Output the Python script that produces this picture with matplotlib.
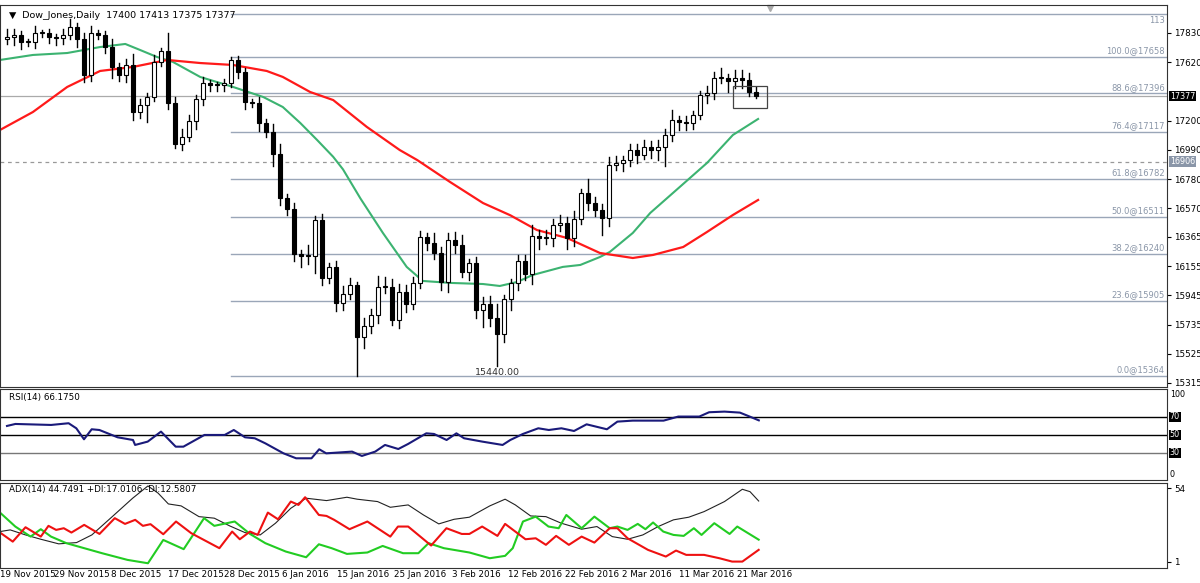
import matplotlib
matplotlib.use("Agg")
import matplotlib.pyplot as plt
from matplotlib.patches import Rectangle

closes = [17801,17816,17765,17765,17830,17830,17801,17794,17816,17873,
          17787,17528,17830,17816,17729,17586,17528,17600,17262,17313,
          17370,17622,17701,17327,17032,17083,17198,17356,17471,17456,
          17456,17471,17636,17550,17334,17327,17183,17119,16961,16644,
          16565,16242,16228,16228,16486,16070,16149,15890,15955,16019,
          15646,15725,15804,16005,16005,15768,15969,15883,16034,16364,
          16321,16249,16041,16343,16307,16113,16177,15840,15883,15782,
          15667,15919,16034,16192,16098,16371,16357,16357,16450,16465,
          16357,16494,16680,16608,16558,16501,16882,16896,16917,16989,
          16953,17011,16989,17011,17097,17205,17191,17183,17241,17385,
          17399,17507,17507,17485,17507,17492,17406,17377]
first_open = 17790
wick_up = [60,40,30,25,50,20,30,25,40,60,
           30,40,50,20,30,60,30,40,80,40,
           30,50,20,130,40,60,40,30,40,20,
           20,25,22,30,30,20,40,30,60,70,
           30,40,30,80,30,40,30,40,60,50,
           20,60,40,80,70,60,60,50,40,40,
           30,70,40,50,60,70,30,40,50,60,
           100,30,30,40,40,80,40,60,40,60,
           40,60,30,100,40,40,60,50,30,40,
           40,50,40,50,40,70,30,40,30,30,
           50,40,70,30,60,60,50,36]
wick_dn = [40,60,50,30,40,30,40,50,40,30,
           60,50,40,30,40,80,40,50,60,40,
           120,30,30,40,30,40,30,60,40,40,
           40,40,30,40,50,30,60,40,90,50,
           40,50,80,60,120,50,40,60,50,40,
           282,80,50,60,40,40,60,60,40,40,
           50,40,60,70,60,40,60,60,120,60,
           227,60,80,50,40,70,80,40,60,40,
           80,60,40,50,40,120,60,40,60,40,
           60,30,60,70,140,40,60,50,40,30,
           60,40,40,80,50,60,30,12]

ma_fast_x = [-1,3.7,8.6,13.3,16.9,19,21.4,23.7,27.6,32.3,36.6,39.4,41.9,44.3,46.6,48,50.5,
             53.7,57.1,59.4,63.3,68,70.4,72.9,75.1,79.4,81.9,84.7,86.1,89.4,91.9,96.1,100,103.7,107.3]
ma_fast = [17636,17672,17686,17729,17751,17708,17658,17622,17514,17442,17370,17298,17183,17061,16940,16850,16640,
           16393,16149,16048,16034,16026,16012,16041,16091,16149,16163,16220,16256,16393,16537,16723,16896,17097,17212]
ma_slow_x = [-1,3.7,8.6,13.3,18,22.9,27.6,32.3,37.1,39.4,43.3,46.6,51.4,56.1,58.6,63.3,68,71.9,75.7,
             80,84.7,89.4,92.3,96.6,100,103.7,107.3]
ma_slow = [17133,17262,17442,17557,17586,17636,17614,17600,17557,17514,17406,17348,17155,16989,16917,16759,16608,16520,16414,
           16357,16249,16213,16235,16292,16400,16522,16630]

fib_pct = ["113", "100.0", "88.6", "76.4", "61.8", "50.0", "38.2", "23.6", "0.0"]
fib_price = [17965, 17658, 17396, 17117, 16782, 16511, 16240, 15905, 15364]

rsi_x = [0,1.2,6.3,8.8,9.9,11,12.1,13.2,15.8,18,18.3,20.1,22,24.1,25.2,28.2,31.1,32.4,34,35.4,36.9,39.5,41.3,43.5,44.6,45.6,
         49.3,50.7,52.6,54,55.9,57.3,59.9,61,62.8,64.2,65.3,67.9,70.8,71.9,73.7,75.9,77.4,79.2,81,82.8,85.7,87.2,89.4,93.8,95.9,
         98.9,100.3,102.5,104.7,106.1,107.4]
rsi = [60,62.2,61.1,63,57.4,45.2,56.3,55.5,47.4,44.4,38.9,42.6,53.7,37,37,50,50,55.5,47.4,46.3,40.7,29.6,24.1,24.1,34.1,29.6,
       31.5,26.7,31.5,38.9,34.4,40,51.8,51.1,44.4,51.8,46.3,42.6,38.9,44.4,51.1,57.4,55.5,57.4,54.4,61.8,56.3,64.8,65.9,65.9,70.4,
       70.4,75.2,75.9,74.8,70.4,66.2]

adx_zx = [0,20,50,80,115,150,180,220,260,290,310,330,355,390,420,450,480,510,540,570,600,640,680,700,740,765,800,830,860,890,
          920,960,990,1010,1040,1070,1100,1140,1170,1200,1230,1260,1290,1320,1350,1380,1420,1455,1470,1487]
adx = [22.8,24,20.4,17.3,14,14.9,20.4,33.5,46.7,55.5,50.3,42.6,41.2,33.5,32.4,26.9,22.1,20.4,28.8,39.5,46.7,45,47.4,46,44.3,40.2,
       41.9,34.7,28.3,31.6,33.1,41.2,46,41.9,34,33.5,28.8,24.5,26.4,19.2,17.3,20.4,26.4,31.2,33.1,37.1,44.3,53.1,51.4,44.7]
mdi_zx = [0,25,50,80,95,110,125,140,165,195,225,245,265,280,295,320,345,375,430,455,470,490,505,525,545,570,585,598,625,640,
          655,685,720,765,780,800,845,875,905,920,945,975,990,1030,1050,1070,1090,1115,1140,1165,1195,1210,1230,1270,1305,1325,
          1345,1380,1410,1435,1455,1487]
mdi = [22.1,15.6,25.9,19.2,26.9,24,25.2,22.1,27.6,21.1,32.4,28.3,31.2,26.9,28.1,20.9,30,21.6,10.9,22.8,17.3,22.8,20.4,36.4,31.6,
       44.3,41.9,47.4,34.7,34,31.2,24.5,30,19.2,26.4,26.4,12.8,25.2,21.1,21.1,26.4,19.7,28.3,17.3,18,13.3,19.7,13.3,19.2,14.9,
       25.2,25.2,18,9.7,4.9,9.2,6.1,6.1,3.7,1.3,1.3,9.7]
pdi_zx = [0,30,60,80,100,130,165,200,250,290,320,360,400,420,460,490,520,560,600,625,650,680,720,750,790,820,840,870,920,960,
          990,1005,1025,1050,1075,1095,1110,1140,1165,1195,1210,1230,1250,1265,1280,1300,1320,1340,1360,1375,1400,1430,1445,1487]
pdi = [36.4,26.4,19.2,24.5,19.2,14.5,10.9,7.3,2.5,0.1,16.8,10.2,32.4,26.9,30,21.1,14.5,8.5,4.4,13.7,10.9,6.8,7.8,12.5,7.3,7.3,
       14.5,10.9,7.8,3.7,5.4,10.9,30,33.5,26.4,25.2,34.7,25.2,33.5,25.2,26.4,24,28.3,24.5,29.3,22.8,20.4,19.7,25.2,20.4,28.8,21.1,
       26.4,17.0]

date_labels = ["19 Nov 2015","29 Nov 2015","8 Dec 2015","17 Dec 2015","28 Dec 2015","6 Jan 2016","15 Jan 2016",
               "25 Jan 2016","3 Feb 2016","12 Feb 2016","22 Feb 2016","2 Mar 2016","11 Mar 2016","21 Mar 2016"]
date_pos = [-1,6.7,14.9,23,31,39.3,47.1,55.3,63.6,71.6,79.7,87.9,96,104.3]
price_ticks = [17830,17620,17200,16990,16780,16570,16365,16155,15945,15735,15525,15315]

plt.rcParams['font.family'] = ['DejaVu Sans']
FS = 6.3

W, H = 1200, 583
fig = plt.figure(figsize=(12, 5.83), dpi=100)
right = 1167 / W
def fy(p): return 1 - p / H
ax = fig.add_axes([0, fy(387), right, fy(5) - fy(387)])
ar = fig.add_axes([0, fy(480), right, fy(389) - fy(480)])
aa = fig.add_axes([0, fy(568), right, fy(483) - fy(568)])
XL = (-1, 1167 / 7 - 1)
def zx2bar(z): return (z / 1.96 - 7) / 7

for a in (ax, ar, aa):
    a.set_xlim(*XL)
    a.set_xticks([])
    a.yaxis.tick_right()
    a.tick_params(axis='y', labelsize=FS, length=3, pad=2)
    for s in a.spines.values():
        s.set_color('#333333'); s.set_linewidth(0.8)

ax.set_ylim(15286, 18031)
ax.set_yticks(price_ticks)
ax.set_yticklabels([str(t) for t in price_ticks])

for lab, p in zip(fib_pct, fib_price):
    ax.plot([32, XL[1]], [p, p], color='#9aa6b8', lw=1)
    if lab == "113":
        ax.text(XL[1] - 0.3, p - 10, lab, ha='right', va='top', fontsize=FS - 0.3, color='#8a96a8')
    else:
        ax.text(XL[1] - 0.3, p + 12, f"{lab}@{p}", ha='right', va='bottom', fontsize=FS - 0.3, color='#8a96a8')
ax.axhline(16906, color='#999999', lw=0.9, ls=(0, (3, 3)))
ax.axhline(closes[-1], color='#aaaaaa', lw=0.9)
ax.text(XL[1] + 0.4, 16906, "16906", fontsize=FS - 0.5, color='white', va='center',
        bbox=dict(boxstyle='square,pad=0.12', fc='#8a96a8', ec='none'), clip_on=False)
ax.text(XL[1] + 0.4, closes[-1], str(closes[-1]), fontsize=FS - 0.5, color='white', va='center',
        bbox=dict(boxstyle='square,pad=0.12', fc='black', ec='none'), clip_on=False)

opens = [first_open] + closes[:-1]
for i, (o, c) in enumerate(zip(opens, closes)):
    hi = max(o, c) + wick_up[i]; lo = min(o, c) - wick_dn[i]
    ax.plot([i, i], [lo, hi], color='black', lw=1, zorder=3)
    h = abs(c - o) if abs(c - o) > 4 else 4
    ax.add_patch(Rectangle((i - 0.35, min(o, c)), 0.7, h, facecolor='black' if c < o else 'white',
                           edgecolor='black', lw=0.8, zorder=4))
ax.plot(ma_fast_x, ma_fast, color='#3cb371', lw=1.5, zorder=2)
ax.plot(ma_slow_x, ma_slow, color='#ff1a1a', lw=1.6, zorder=2)
ax.text(70, 15420, "15440.00", ha='center', va='top', fontsize=FS + 0.5, color='#333333')
ax.add_patch(Rectangle((103.7, 17290), 4.8, 160, facecolor='none', edgecolor='#444444', lw=0.9, zorder=5))
ax.text(0.3, 17990, "\u25bc  Dow_Jones,Daily  17400 17413 17375 17377", fontsize=FS + 0.5, va='top')
ax.plot([109], [18010], marker='v', color='#aaaaaa', ms=5, clip_on=False)

ar.set_ylim(0, 101)
ar.set_yticks([])
for lv, col in ((70, 'black'), (50, 'black'), (30, '#777777')):
    ar.axhline(lv, color=col, lw=1)
    ar.text(XL[1] + 0.4, lv, str(lv), fontsize=FS - 0.5, color='white', va='center',
            bbox=dict(boxstyle='square,pad=0.1', fc='black', ec='none'), clip_on=False)
ar.text(XL[1] + 0.4, 95, "100", fontsize=FS - 0.5, va='center', clip_on=False)
ar.text(XL[1] + 0.4, 6, "0", fontsize=FS - 0.5, va='center', clip_on=False)
ar.plot(rsi_x, rsi, color='#1a1a7a', lw=1.5)
ar.text(0.3, 97, "RSI(14) 66.1750", fontsize=FS, va='top')

aa.set_ylim(-3.3, 57.6)
aa.set_yticks([54, 1])
aa.set_yticklabels(["54", "1"])
aa.plot([zx2bar(z) for z in adx_zx], adx, color='#222222', lw=0.8)
aa.plot([zx2bar(z) for z in pdi_zx], pdi, color='#22cc22', lw=1.5)
aa.plot([zx2bar(z) for z in mdi_zx], mdi, color='#ee1111', lw=1.5)
aa.text(0.3, 56.5, "ADX(14) 44.7491 +DI:17.0106 -DI:12.5807", fontsize=FS, va='top')

for lab, pos in zip(date_labels, date_pos):
    aa.text(pos, -4.5, lab, ha='left', va='top', fontsize=FS, clip_on=False)

fig.savefig("out.png", dpi=100)
